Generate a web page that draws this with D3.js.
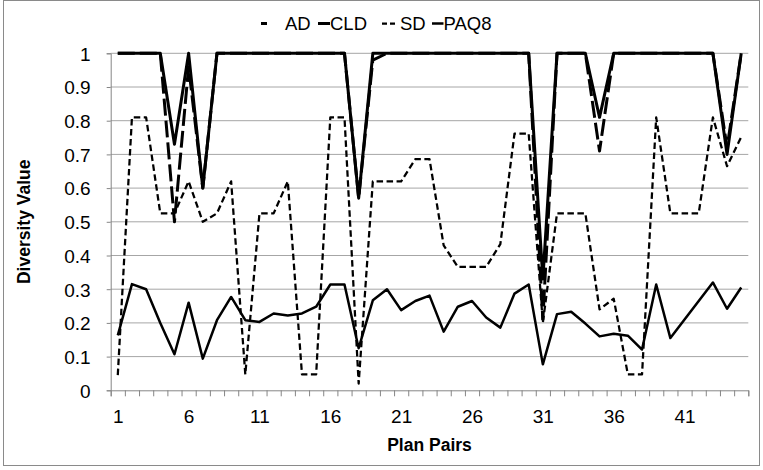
<!DOCTYPE html>
<html>
<head>
<meta charset="utf-8">
<script src="https://cdn.jsdelivr.net/npm/d3@7"></script>
<style>
  body { margin: 0; background: #fff; }
  text { font-family: "Liberation Sans", Arial, sans-serif; fill: #000; }
</style>
</head>
<body>
<div id="chart"></div>
<script>
// Data
var categories = [1, 2, 3, 4, 5, 6, 7, 8, 9, 10, 11, 12, 13, 14, 15, 16, 17, 18, 19, 20,
  21, 22, 23, 24, 25, 26, 27, 28, 29, 30, 31, 32, 33, 34, 35, 36, 37, 38, 39, 40,
  41, 42, 43, 44, 45];
var xTickLabels = [1, 6, 11, 16, 21, 26, 31, 36, 41];
var yTicks = [0, 0.1, 0.2, 0.3, 0.4, 0.5, 0.6, 0.7, 0.8, 0.9, 1];
var seriesNames = ["AD", "CLD", "SD", "PAQ8"];

var adValues = [1, 1, 1, 1, 0.50, 0.96, 0.60, 1, 1, 1,
  1, 1, 1, 1, 1, 1, 1, 0.57, 0.98, 1,
  1, 1, 1, 1, 1, 1, 1, 1, 1, 1,
  0.21, 1, 1, 1, 0.71, 1, 1, 1, 1, 1,
  1, 1, 1, 0.72, 1];
var cldValues = [1, 1, 1, 1, 0.73, 1, 0.60, 1, 1, 1,
  1, 1, 1, 1, 1, 1, 1, 0.57, 1, 1,
  1, 1, 1, 1, 1, 1, 1, 1, 1, 1,
  0.33, 1, 1, 1, 0.81, 1, 1, 1, 1, 1,
  1, 1, 1, 0.70, 1];
var sdValues = [0.045, 0.81, 0.81, 0.525, 0.525, 0.62, 0.50, 0.525, 0.62, 0.047,
  0.525, 0.525, 0.62, 0.047, 0.047, 0.81, 0.81, 0.02, 0.62, 0.62,
  0.62, 0.686, 0.686, 0.43, 0.366, 0.366, 0.366, 0.434, 0.762, 0.762,
  0.20, 0.525, 0.525, 0.525, 0.24, 0.272, 0.047, 0.047, 0.81, 0.525,
  0.525, 0.525, 0.81, 0.665, 0.752];
var paq8Values = [0.163, 0.315, 0.30, 0.20, 0.107, 0.26, 0.094, 0.208, 0.277, 0.208,
  0.203, 0.228, 0.222, 0.228, 0.248, 0.314, 0.314, 0.125, 0.267, 0.30,
  0.238, 0.265, 0.281, 0.174, 0.248, 0.265, 0.216, 0.186, 0.287, 0.314,
  0.077, 0.226, 0.233, 0.198, 0.16, 0.168, 0.162, 0.121, 0.314, 0.155,
  0.21, 0.265, 0.32, 0.242, 0.305];

// Canvas
var width = 763;
var height = 470;
var plotLeft = 110.7, plotRight = 748.3, plotTop = 53.3, plotBottom = 390.3;

var svg = d3.select("#chart")
  .append("svg")
  .attr("width", width)
  .attr("height", height);

// chart border
svg.append("rect")
  .attr("x", 3.5).attr("y", 0.5)
  .attr("width", 756).attr("height", 465)
  .attr("fill", "none")
  .attr("stroke", "#8a8a8a");

var x = d3.scaleLinear().domain([0.5, categories.length + 0.5]).range([plotLeft, plotRight]);
var y = d3.scaleLinear().domain([0, 1]).range([plotBottom, plotTop]);

// gridlines
svg.append("g")
  .selectAll("line")
  .data(yTicks.filter(function (d) { return d > 0; }))
  .enter()
  .append("line")
  .attr("x1", plotLeft).attr("x2", plotRight)
  .attr("y1", function (d) { return y(d); })
  .attr("y2", function (d) { return y(d); })
  .attr("stroke", "#a6a6a6")
  .attr("stroke-width", 1);

// y axis
var yAxis = svg.append("g")
  .attr("transform", "translate(" + plotLeft + ",0)")
  .call(d3.axisLeft(y)
    .tickValues(yTicks)
    .tickSize(4)
    .tickPadding(16)
    .tickFormat(function (d) { return d3.format("")(+d.toFixed(1)); }));
yAxis.selectAll("line, path").attr("stroke", "#868686");
yAxis.selectAll("text").style("font-size", "19px").attr("dy", "0.36em");

// x axis: category boundary ticks
var boundaries = categories.map(function (c) { return c - 0.5; }).concat([categories.length + 0.5]);
var xAxis = svg.append("g")
  .attr("transform", "translate(0," + plotBottom + ")")
  .call(d3.axisBottom(x).tickValues(boundaries).tickSize(6).tickFormat(""));
xAxis.selectAll("line, path").attr("stroke", "#868686");

// x axis labels
var xLabels = svg.append("g")
  .attr("transform", "translate(0," + plotBottom + ")")
  .call(d3.axisBottom(x).tickValues(xTickLabels).tickSize(0).tickPadding(19));
xLabels.select(".domain").remove();
xLabels.selectAll("text").style("font-size", "19px");

// axis titles
svg.append("text")
  .attr("x", (plotLeft + plotRight) / 2)
  .attr("y", 451)
  .attr("text-anchor", "middle")
  .style("font-size", "17.5px")
  .style("font-weight", "bold")
  .text("Plan Pairs");

svg.append("text")
  .attr("transform", "translate(30," + ((plotTop + plotBottom) / 2) + ")rotate(-90)")
  .attr("text-anchor", "middle")
  .style("font-size", "17.5px")
  .style("font-weight", "bold")
  .text("Diversity Value");

// series
var seriesStyles = {
  AD: { width: 3, dash: "17,5" },
  CLD: { width: 3, dash: null },
  SD: { width: 2.25, dash: "6.5,3.5" },
  PAQ8: { width: 2.5, dash: null }
};
var seriesData = { AD: adValues, CLD: cldValues, SD: sdValues, PAQ8: paq8Values };

var line = d3.line()
  .x(function (d, i) { return x(categories[i]); })
  .y(function (d) { return y(d); });

seriesNames.forEach(function (name) {
  var st = seriesStyles[name];
  svg.append("path")
    .datum(seriesData[name])
    .attr("d", line)
    .attr("fill", "none")
    .attr("stroke", "#000")
    .attr("stroke-width", st.width)
    .attr("stroke-linejoin", "round")
    .attr("stroke-dasharray", st.dash);
});

// legend
var legendItems = {
  AD: { x1: 261, x2: 267, tx: 285 },
  CLD: { x1: 318, x2: 330, tx: 330 },
  SD: { x1: 382, x2: 397, tx: 400 },
  PAQ8: { x1: 432, x2: 443.5, tx: 443.5 }
};
var legend = svg.append("g").attr("class", "legend");
seriesNames.forEach(function (name) {
  var it = legendItems[name];
  var st = seriesStyles[name];
  legend.append("line")
    .attr("x1", it.x1).attr("x2", it.x2)
    .attr("y1", 23.5).attr("y2", 23.5)
    .attr("stroke", "#000")
    .attr("stroke-width", st.width)
    .attr("stroke-dasharray", name === "SD" ? "5,3" : null);
  legend.append("text")
    .attr("x", it.tx)
    .attr("y", 30)
    .style("font-size", "18.5px")
    .text(name);
});
</script>
</body>
</html>
